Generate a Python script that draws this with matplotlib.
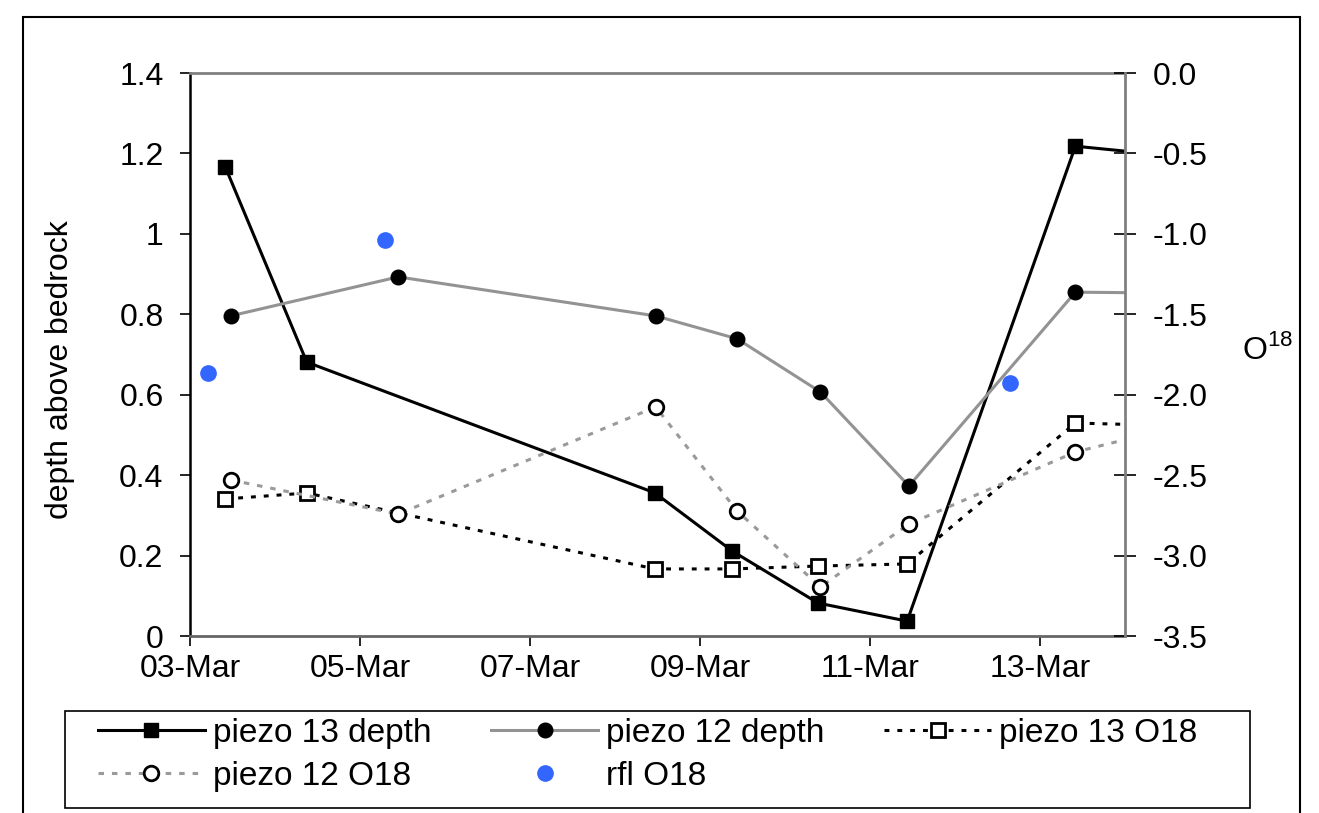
import matplotlib
matplotlib.use("Agg")
import matplotlib.pyplot as plt
import matplotlib.dates as mdates
from matplotlib.patches import Rectangle
from matplotlib.ticker import FuncFormatter
import pandas as pd

plt.rcParams['font.family'] = ['Liberation Sans', 'DejaVu Sans']
plt.rcParams['mathtext.fontset'] = 'custom'
plt.rcParams['mathtext.rm'] = 'Liberation Sans'

# sampling times (last point of the piezo series lies past the axis end)
p13_dates = pd.to_datetime(["2004-03-03 10:00", "2004-03-04 09:00", "2004-03-08 11:15",
                            "2004-03-09 09:10", "2004-03-10 09:20", "2004-03-11 10:30",
                            "2004-03-13 10:00", "2004-03-14 10:00"])
p12_dates = pd.to_datetime(["2004-03-03 11:30", "2004-03-05 10:50", "2004-03-08 11:30",
                            "2004-03-09 10:30", "2004-03-10 10:00", "2004-03-11 11:00",
                            "2004-03-13 10:00", "2004-03-14 10:00"])
rfl_dates = pd.to_datetime(["2004-03-03 05:00", "2004-03-05 07:00", "2004-03-12 15:30"])

p13_depth = [1.166, 0.681, 0.356, 0.211, 0.082, 0.037, 1.218, 1.197]
p12_depth = [0.796, 0.893, 0.796, 0.739, 0.607, 0.373, 0.855, 0.853]
p13_o18 = [-2.648, -2.611, -3.083, -3.083, -3.065, -3.052, -2.176, -2.19]
p12_o18 = [-2.53, -2.742, -2.076, -2.723, -3.195, -2.804, -2.356, -2.225]
rfl_o18 = [-1.865, -1.038, -1.927]

x_ticks = pd.to_datetime(["2004-03-03", "2004-03-05", "2004-03-07",
                          "2004-03-09", "2004-03-11", "2004-03-13"])
x_start = pd.Timestamp("2004-03-03")
x_end = pd.Timestamp("2004-03-14")
left_ticks = [0, 0.2, 0.4, 0.6, 0.8, 1.0, 1.2, 1.4]
right_ticks = [-3.5, -3.0, -2.5, -2.0, -1.5, -1.0, -0.5, 0.0]

FS = 23
FS_LEG = 24
GRAY = '#939393'

fig = plt.figure(figsize=(13.19, 8.13), dpi=100)
ax = fig.add_axes([0.1440, 0.2177, 0.7089, 0.6925])
ax2 = ax.twinx()

l1, = ax.plot(p13_dates, p13_depth, color='black', lw=2.2, marker='s', ms=10,
              mfc='black', mec='black', label='piezo 13 depth')
l2, = ax.plot(p12_dates, p12_depth, color=GRAY, lw=2.2, marker='o', ms=10.5,
              mfc='black', mec='black', label='piezo 12 depth')
l3, = ax2.plot(p13_dates, p13_o18, color='black', lw=2.2, ls=(0, (1.6, 2.6)), marker='s',
               ms=10.5, mfc='white', mec='black', mew=2, label='piezo 13 O18')
l4, = ax2.plot(p12_dates, p12_o18, color='#9a9a9a', lw=2.2, ls=(0, (1.8, 2.6)), marker='o',
               ms=10.5, mfc='white', mec='black', mew=2, label='piezo 12 O18')
l5, = ax2.plot(rfl_dates, rfl_o18, ls='none', marker='o', ms=11, mfc='#3366ff',
               mec='#3366ff', label='rfl O18')

ax.set_xlim(x_start, x_end)
ax.set_ylim(0, 1.4)
ax2.set_ylim(-3.5, 0.0)

ax.set_xticks(x_ticks)
ax.xaxis.set_major_formatter(mdates.DateFormatter('%d-%b'))
ax.set_yticks(left_ticks)
ax.yaxis.set_major_formatter(FuncFormatter(lambda v, p: f"{v:g}"))
ax2.set_yticks(right_ticks)
ax2.yaxis.set_major_formatter(FuncFormatter(lambda v, p: f"{v:.1f}"))

ax.tick_params(axis='x', direction='out', length=7, width=1.2, pad=6, labelsize=FS)
ax.tick_params(axis='y', direction='out', length=7, width=1.2, pad=12, labelsize=FS)
ax2.tick_params(axis='y', direction='inout', length=16, width=1.2, pad=12, labelsize=FS)

for s in ['left', 'top', 'bottom']:
    ax2.spines[s].set_visible(False)
ax.spines['right'].set_visible(False)
ax.spines['left'].set_color('black')
ax.spines['left'].set_linewidth(1.8)
ax.spines['bottom'].set_color('#666666')
ax.spines['bottom'].set_linewidth(2)
ax.spines['top'].set_color('#808080')
ax.spines['top'].set_linewidth(2)
ax2.spines['right'].set_color('#808080')
ax2.spines['right'].set_linewidth(2)

fig.text(60 / 1319, 1 - 370 / 813, 'depth above bedrock', rotation=90,
         ha='center', va='center', fontsize=FS)
fig.text(1242 / 1319, 1 - 350 / 813, 'O$^{\\mathrm{18}}$', ha='left', va='center', fontsize=FS)

# outer chart border
fig.patches.append(Rectangle((23 / 1319, -0.02), 1277 / 1319, 1 - 17 / 813 + 0.02,
                             transform=fig.transFigure, fill=False, ec='black', lw=1.5))
# legend box
fig.patches.append(Rectangle((65 / 1319, 5 / 813), 1185 / 1319, 97 / 813,
                             transform=fig.transFigure, fill=False, ec='black', lw=1.2))

handles = [l1, l4, l2, l5, l3]
fig.legend(handles=handles, labels=[h.get_label() for h in handles], ncol=3,
           loc='center left', bbox_to_anchor=(98 / 1319, 1 - 754.5 / 813),
           fontsize=FS_LEG, frameon=False, handlelength=3.2, handletextpad=0.24,
           columnspacing=1.8, labelspacing=0.36, borderpad=0, borderaxespad=0, numpoints=1)

fig.savefig('out.png', dpi=100)
